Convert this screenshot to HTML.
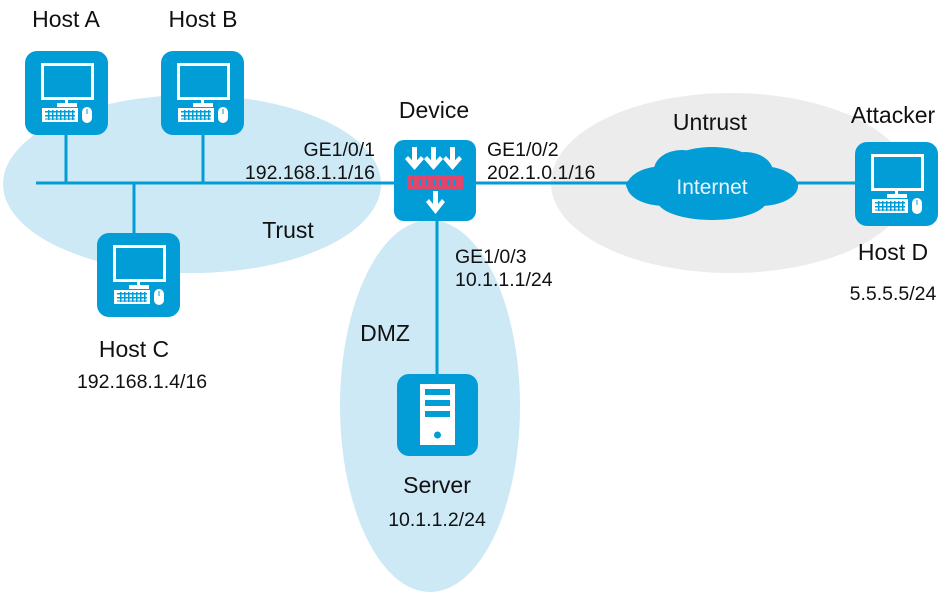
<!DOCTYPE html>
<html><head><meta charset="utf-8"><style>
html,body{margin:0;padding:0;background:#fff;}
svg{display:block;}
text{font-family:"Liberation Sans",Arial,sans-serif;fill:#111;}
</style></head><body>
<svg width="944" height="596" viewBox="0 0 944 596" xmlns="http://www.w3.org/2000/svg">
<defs>
<g id="pc">
<rect x="0" y="0" width="83" height="84" rx="12" fill="#029dd6"/>
<rect x="17.5" y="13.5" width="50" height="34" fill="none" stroke="#fff" stroke-width="3"/>
<rect x="40" y="49" width="3" height="4" fill="#fff"/>
<rect x="32" y="52" width="20" height="4" fill="#fff"/>
<rect x="17" y="57" width="36" height="14" fill="#fff"/>
<g fill="#029dd6">
<rect x="20" y="60" width="30" height="1.5"/><rect x="20" y="64" width="30" height="1.5"/><rect x="20" y="67.5" width="30" height="1"/>
<rect x="23" y="59" width="1.5" height="10"/><rect x="27" y="59" width="1.5" height="10"/><rect x="31" y="59" width="1.5" height="10"/><rect x="35" y="59" width="1.5" height="10"/><rect x="39" y="59" width="1.5" height="10"/><rect x="43" y="59" width="1.5" height="10"/><rect x="47" y="59" width="1.5" height="10"/>
</g>
<rect x="57" y="56" width="10" height="16" rx="5" fill="#fff"/>
<rect x="61.5" y="58" width="1" height="5" fill="#029dd6"/>
</g>
</defs>
<ellipse cx="192" cy="184" rx="189" ry="89" fill="#cde9f5"/>
<ellipse cx="731" cy="183" rx="180" ry="90" fill="#ececec"/>
<ellipse cx="430" cy="406" rx="90" ry="186" fill="#cde9f5"/>
<g stroke="#029dd6" stroke-width="3" fill="none">
<line x1="36" y1="183" x2="395" y2="183"/>
<line x1="66" y1="135" x2="66" y2="183"/>
<line x1="203" y1="135" x2="203" y2="183"/>
<line x1="134" y1="183" x2="134" y2="234"/>
<line x1="475" y1="183" x2="630" y2="183"/>
<line x1="795" y1="183" x2="857" y2="183"/>
<line x1="437" y1="220" x2="437" y2="375"/>
</g>
<use href="#pc" x="25" y="51"/>
<use href="#pc" x="161" y="51"/>
<use href="#pc" x="97" y="233"/>
<use href="#pc" x="855" y="142"/>
<!-- device -->
<rect x="394" y="140" width="82" height="81" rx="10" fill="#029dd6"/>
<g fill="#fff">
<rect x="412" y="147" width="5" height="18"/><path d="M405 159 L414.5 170 L424 159 L421 156 L414.5 163 L408 156Z"/>
<rect x="431" y="147" width="5" height="18"/><path d="M424 159 L433.5 170 L443 159 L440 156 L433.5 163 L427 156Z"/>
<rect x="450" y="147" width="5" height="18"/><path d="M443 159 L452.5 170 L462 159 L459 156 L452.5 163 L446 156Z"/>
<rect x="433" y="191" width="5" height="18"/><path d="M426 202 L435.5 214 L445 202 L442 199 L435.5 207 L429 199Z"/>
</g>
<rect x="407" y="175" width="56" height="14" fill="#e0456b"/>
<g fill="#029dd6"><rect x="412" y="179" width="2" height="6"/><rect x="419" y="179" width="2" height="6"/><rect x="426" y="179" width="2" height="6"/><rect x="433" y="179" width="2" height="6"/><rect x="440" y="179" width="2" height="6"/><rect x="447" y="179" width="2" height="6"/><rect x="454" y="179" width="2" height="6"/></g>
<!-- cloud -->
<g fill="#029dd6">
<ellipse cx="712" cy="185" rx="86" ry="20"/>
<ellipse cx="712" cy="172" rx="50" ry="25"/>
<ellipse cx="682" cy="170" rx="28" ry="20"/>
<ellipse cx="745" cy="172" rx="28" ry="20"/>
<ellipse cx="712" cy="200" rx="55" ry="20"/>
<ellipse cx="665" cy="186" rx="38" ry="20"/>
<ellipse cx="760" cy="186" rx="38" ry="20"/>
</g>
<text x="712" y="194" font-size="21" text-anchor="middle" style="fill:#e8f6fc">Internet</text>
<!-- server -->
<rect x="397" y="374" width="81" height="82" rx="12" fill="#029dd6"/>
<rect x="420" y="384" width="35" height="61" fill="#fff"/>
<g fill="#029dd6"><rect x="425" y="389" width="25" height="6"/><rect x="425" y="400" width="25" height="6"/><rect x="425" y="411" width="25" height="6"/><circle cx="437.5" cy="435" r="3.5"/></g>
<g font-size="23">
<text x="66" y="27" text-anchor="middle">Host A</text>
<text x="203" y="27" text-anchor="middle">Host B</text>
<text x="434" y="118" text-anchor="middle">Device</text>
<text x="288" y="238" text-anchor="middle">Trust</text>
<text x="134" y="357" text-anchor="middle">Host C</text>
<text x="385" y="341" text-anchor="middle">DMZ</text>
<text x="437" y="493" text-anchor="middle">Server</text>
<text x="710" y="130" text-anchor="middle">Untrust</text>
<text x="893" y="123" text-anchor="middle">Attacker</text>
<text x="893" y="260" text-anchor="middle">Host D</text>
</g>
<g font-size="19.5">
<text x="375" y="156" text-anchor="end">GE1/0/1</text>
<text x="375" y="179" text-anchor="end">192.168.1.1/16</text>
<text x="487" y="156">GE1/0/2</text>
<text x="487" y="179">202.1.0.1/16</text>
<text x="455" y="263">GE1/0/3</text>
<text x="455" y="286">10.1.1.1/24</text>
<text x="142" y="388" text-anchor="middle">192.168.1.4/16</text>
<text x="437" y="526" text-anchor="middle">10.1.1.2/24</text>
<text x="893" y="300" text-anchor="middle">5.5.5.5/24</text>
</g>
</svg>
</body></html>
